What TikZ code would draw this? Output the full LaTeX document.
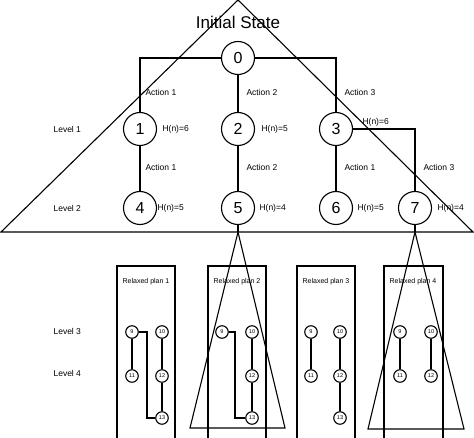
\documentclass[tikz,border=0pt]{standalone}
\usepackage{fontspec}
\setmainfont{Liberation Sans}
\tikzset{
  state/.style={circle, draw, minimum size=33pt, inner sep=0pt, font=\fontsize{16}{16}\selectfont},
  sub/.style={circle, draw, minimum size=12.5pt, inner sep=0pt, font=\fontsize{5.5}{6}\selectfont},
  lbl/.style={font=\fontsize{8.5}{9}\selectfont, inner sep=0pt},
  plan/.style={font=\fontsize{7}{8}\selectfont, inner sep=0pt}
}
\begin{document}
\begin{tikzpicture}[x=1pt, y=-1pt, line width=1.1pt]
  \useasboundingbox (0,0) rectangle (474,438);
  % search tree
  \draw (238,0) -- (1,232) -- (473,232) -- cycle;
  \draw
    (238,22) node[font=\fontsize{17}{17}\selectfont] (init){Initial State}
    (238,58) node[state] (0){0}
    (140,129) node[state] (1){1}
    (238,129) node[state] (2){2}
    (336,129) node[state] (3){3}
    (140,208) node[state] (4){4}
    (238,208) node[state] (5){5}
    (336,208) node[state] (6){6}
    (415,208) node[state] (7){7};
  \begin{scope}[-]
    \draw (0) -| (1);
    \draw (0) to (2);
    \draw (0) -| (3);
    \draw (1) to (4);
    \draw (2) to (5);
    \draw (3) to (6);
    \draw (3) -| (7);
  \end{scope}
  \path[every node/.style={lbl, anchor=west}]
    (145,92) node (a01){Action 1}
    (246,92) node (a02){Action 2}
    (344,92) node (a03){Action 3}
    (145,167) node (a14){Action 1}
    (246,167) node (a25){Action 2}
    (344,167) node (a36){Action 1}
    (423,167) node (a37){Action 3}
    (162,129) node (h1){H(n)=6}
    (261,129) node (h2){H(n)=5}
    (362,122) node (h3){H(n)=6}
    (157,208) node (h4){H(n)=5}
    (259,208) node (h5){H(n)=4}
    (357,208) node (h6){H(n)=5}
    (437,208) node (h7){H(n)=4}
    (53,129) node (l1){Level 1}
    (53,208) node (l2){Level 2}
    (53,331) node (l3){Level 3}
    (53,373) node (l4){Level 4};
  % relaxed plans
  \coordinate (b5) at (238,232);
  \coordinate (b7) at (415,232);
  \draw (5) -- (b5);
  \draw (7) -- (b7);
  \draw (b5) -- (190,428) -- (285,428) -- cycle;
  \draw (b7) -- (368,429) -- (464,429) -- cycle;
  \draw (117,266) rectangle (175,438.5);
  \draw (208,266) rectangle (266,438.5);
  \draw (297,266) rectangle (355,438.5);
  \draw (384,266) rectangle (443,438.5);
  \path[every node/.style=plan]
    (146,282) node (r1){Relaxed plan 1}
    (237,282) node (r2){Relaxed plan 2}
    (326,282) node (r3){Relaxed plan 3}
    (413,282) node (r4){Relaxed plan 4};
  \draw
    (132,332) node[sub] (p1n9){9}
    (162,332) node[sub] (p1n10){10}
    (132,376) node[sub] (p1n11){11}
    (162,376) node[sub] (p1n12){12}
    (162,418) node[sub] (p1n13){13}
    (222,332) node[sub] (p2n9){9}
    (252,332) node[sub] (p2n10){10}
    (252,376) node[sub] (p2n12){12}
    (252,418) node[sub] (p2n13){13}
    (311,332) node[sub] (p3n9){9}
    (340,332) node[sub] (p3n10){10}
    (311,376) node[sub] (p3n11){11}
    (340,376) node[sub] (p3n12){12}
    (340,418) node[sub] (p3n13){13}
    (400,332) node[sub] (p4n9){9}
    (431,332) node[sub] (p4n10){10}
    (400,376) node[sub] (p4n11){11}
    (431,376) node[sub] (p4n12){12};
  \begin{scope}[-]
    \draw (p1n9) to (p1n11);
    \draw (p1n10) to (p1n12);
    \draw (p1n12) to (p1n13);
    \draw (p1n9) -| (147,418) -- (p1n13);
    \draw (p2n10) to (p2n12);
    \draw (p2n12) to (p2n13);
    \draw (p2n9) -| (235,418) -- (p2n13);
    \draw (p3n9) to (p3n11);
    \draw (p3n10) to (p3n12);
    \draw (p3n12) to (p3n13);
    \draw (p4n9) to (p4n11);
    \draw (p4n10) to (p4n12);
  \end{scope}
\end{tikzpicture}
\end{document}
